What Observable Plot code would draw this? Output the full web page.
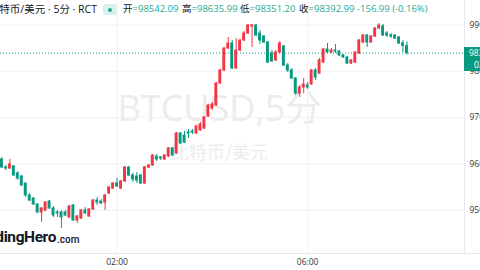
<!DOCTYPE html>
<html>
<head>
<meta charset="utf-8">
<script src="https://cdn.jsdelivr.net/npm/d3@7"></script>
<script src="https://cdn.jsdelivr.net/npm/@observablehq/plot@0.6"></script>
<style>
html,body{margin:0;padding:0;width:480px;height:270px;overflow:hidden;background:#fff}
#wrap{position:relative;width:480px;height:270px;overflow:hidden;font-family:"Open Sans","Noto Sans CJK SC",sans-serif;color:#131722}
.wm{position:absolute;left:0;width:439px;text-align:center;color:#ececec;white-space:nowrap;z-index:0}
#wm1{top:90px;font-size:36px;line-height:36px}
#wm2{top:142px;font-size:18px;line-height:18px;font-family:"Noto Sans CJK SC",sans-serif}
#chart{position:absolute;left:0;top:0;z-index:1}
#chart svg{background:transparent;overflow:hidden}
.hd{position:absolute;top:3px;font-size:9.5px;line-height:12px;white-space:nowrap;z-index:3}
#title{font-size:10.5px;top:2.5px}
.g{color:#22ab94}
#badge{position:absolute;left:103px;top:4px;width:14px;height:11px;border-radius:3px;background:#d9f0eb;z-index:3}
#badge i{position:absolute;left:5px;top:3.5px;width:4px;height:4px;border-radius:50%;background:#22ab94}
#vsep{position:absolute;left:464px;top:0;width:1px;height:253px;background:#e6e8ee;z-index:2}
#hsep{position:absolute;left:0;top:253px;width:480px;height:1px;background:#e6e8ee;z-index:2}
#logo{position:absolute;right:424px;top:230px;font-family:Roboto,sans-serif;font-weight:700;font-size:15.5px;line-height:15px;letter-spacing:-0.4px;white-space:nowrap;z-index:2;color:#131722}
#logo2{position:absolute;left:57px;top:235px;font-family:Roboto,sans-serif;font-weight:500;font-size:10px;line-height:10px;white-space:nowrap;z-index:2;color:#131722}
#pbox{position:absolute;left:464px;width:16px;height:24px;background:#089981;color:#fff;font-size:8.5px;line-height:12px;z-index:4;overflow:hidden}
#pv{padding-left:5px;white-space:nowrap}
#pc{padding-left:10px;white-space:nowrap}
</style>
</head>
<body>
<div id="wrap">
  <div class="wm" id="wm1"></div>
  <div class="wm" id="wm2"></div>
  <div id="chart"></div>
  <div id="vsep"></div>
  <div id="hsep"></div>
  <div id="logo"></div>
  <div id="logo2"></div>
  <div class="hd" id="title" style="right:383px"></div>
  <div id="badge"><i></i></div>
  <div class="hd" style="left:123px"><span id="lo"></span><span class="g" id="vo"></span></div>
  <div class="hd" style="left:182px"><span id="lh"></span><span class="g" id="vh"></span></div>
  <div class="hd" style="left:240px"><span id="ll"></span><span class="g" id="vl"></span></div>
  <div class="hd" style="left:299px"><span id="lc"></span><span class="g" id="vc"></span></div>
  <div class="hd g" style="left:357px" id="chg"></div>
  <div id="pbox"><div id="pv"></div><div id="pc"></div></div>
</div>
<script>
// ---- data (5-minute candles, first at 23:35) ----
const firstCandle = "2025-01-27T23:35";
const opens = [
  96094, 95922, 95900, 95943, 95793, 95728, 95576, 95317, 95252, 95123,
  94950, 94993, 95187, 95036, 94950, 94950, 94950, 94842, 95101, 94777,
  94820, 94993, 94864, 95015, 95209, 95187, 95166, 95360, 95468,
  95576, 95468, 95620, 95922, 95749, 95728, 95749, 95576, 95922, 95965,
  96159, 96138, 96094, 96159, 96332, 96224, 96656, 96613, 96678, 96699,
  96656, 96721, 96764, 97023, 97196, 97261, 97736, 98017, 98492, 98600,
  98060, 98449, 98665, 98816, 98968, 98989, 98816, 98751, 98622, 98384,
  98233, 98406, 98535, 98125, 98017, 97844, 97520, 97650, 97693, 97715,
  98017, 97952, 98190, 98471, 98406, 98449, 98427, 98341, 98298, 98168,
  98190, 98384, 98622, 98773, 98622, 98751, 98924, 98968, 98816, 98773,
  98773, 98730, 98600, 98542.09
];
const highs = [
  96138, 95965, 96094, 95965, 95836, 95749, 95576, 95360, 95274, 95144,
  95058, 95187, 95209, 95079, 94993, 94993, 94993, 95101, 95123, 94885,
  95015, 95058, 95036, 95231, 95274, 95231, 95339, 95511, 95598,
  95684, 95641, 95943, 95943, 95793, 95814, 95771, 95943, 95986, 96202,
  96202, 96159, 96202, 96354, 96354, 96678, 96678, 96699, 96743, 96743,
  96829, 96894, 97023, 97283, 97326, 97758, 98039, 98514, 98730, 98665,
  98708, 98687, 98859, 99011, 99011, 99011, 98881, 98773, 98643, 98449,
  98449, 98643, 98557, 98168, 98060, 97866, 97693, 97844, 97758, 98039,
  98060, 98276, 98492, 98600, 98492, 98579, 98449, 98363, 98319, 98254,
  98427, 98687, 98794, 98794, 98773, 98946, 99032, 99011, 98859, 98816,
  98794, 98751, 98665, 98635.99
];
const lows = [
  95900, 95857, 95879, 95728, 95641, 95511, 95274, 95187, 95101, 94928,
  94734, 94971, 95015, 94842, 94842, 94604, 94864, 94820, 94755, 94712,
  94799, 94907, 94842, 94993, 95101, 95123, 94993, 95339, 95447,
  95490, 95447, 95598, 95728, 95598, 95576, 95555, 95555, 95900, 95943,
  96051, 96073, 96073, 96138, 96159, 96202, 96419, 96440, 96548, 96635,
  96635, 96699, 96743, 97002, 97153, 97239, 97715, 97995, 98471, 98039,
  98039, 98427, 98643, 98794, 98514, 98751, 98579, 98600, 98168, 98190,
  98211, 98384, 98103, 97974, 97823, 97477, 97434, 97520, 97607, 97693,
  97801, 97931, 98168, 98384, 98384, 98384, 98319, 98276, 98147, 98147,
  98168, 98363, 98600, 98514, 98600, 98730, 98903, 98751, 98730, 98708,
  98687, 98579, 98406, 98351.20
];
const closes = [
  95922, 95900, 95986, 95749, 95684, 95533, 95317, 95209, 95123, 94950,
  95036, 95166, 95036, 94885, 94928, 94842, 94885, 95079, 94777, 94864,
  94993, 94928, 95015, 95209, 95166, 95144, 95317, 95490, 95576,
  95511, 95620, 95922, 95749, 95663, 95641, 95576, 95922, 95965, 96181,
  96094, 96116, 96181, 96332, 96181, 96656, 96440, 96462, 96656, 96678,
  96808, 96851, 97002, 97261, 97283, 97736, 98017, 98492, 98600, 98060,
  98449, 98665, 98816, 98989, 98989, 98773, 98665, 98622, 98190, 98211,
  98406, 98600, 98125, 98017, 97844, 97520, 97650, 97715, 97650, 98017,
  97866, 98233, 98471, 98406, 98449, 98427, 98341, 98298, 98168, 98233,
  98406, 98665, 98773, 98622, 98751, 98924, 98989, 98773, 98773, 98751,
  98708, 98600, 98549.98, 98392.99
];
const tickPrices = [95000, 96000, 97000, 98000, 99000];
const tickTimes = ["2025-01-28T02:00", "2025-01-28T06:00"];
const xDomain = ["2025-01-27T23:33:15", "2025-01-28T09:17:30"];
const yDomain = [94064, 99529];
const titleText = "比特币/美元 · 5分 · RCT";
const ohlcLabels = ["开", "高", "低", "收"];
const watermark1 = "BTCUSD,5分";
const watermark2 = "比特币/美元";
const logoMain = "TradingHero";
const logoTail = ".com";
const countdown = "02:17";

// ---- build ----
const UP = "#f23645", DOWN = "#089981";
const parseM = d3.timeParse("%Y-%m-%dT%H:%M");
const parseS = d3.timeParse("%Y-%m-%dT%H:%M:%S");
const t0 = parseM(firstCandle);
const candles = opens.map((o, k) => {
  const t = d3.timeMinute.offset(t0, 5 * k);
  return {t, t1: d3.timeSecond.offset(t, -110), t2: d3.timeSecond.offset(t, 110),
          open: o, close: closes[k], high: highs[k], low: lows[k]};
});
const tickDates = tickTimes.map(parseM);
const isUp = d => d.close >= d.open;
const last = candles[candles.length - 1];
const prev = candles[candles.length - 2];

const chart = Plot.plot({
  width: 480, height: 270,
  marginLeft: 0, marginRight: 16, marginTop: 0, marginBottom: 17,
  style: {background: "transparent", fontSize: "8.5px", fontFamily: "'Open Sans', sans-serif", color: "#333"},
  x: {type: "time", domain: xDomain.map(parseS), ticks: tickDates, tickFormat: d3.timeFormat("%H:%M"), tickSize: 0, tickPadding: 5, label: null},
  y: {domain: yDomain, axis: "right", ticks: tickPrices, tickFormat: d => String(d), tickSize: 0, tickPadding: 5, label: null},
  marks: [
    Plot.ruleY(tickPrices, {stroke: "#f0f2f6", strokeWidth: 1}),
    Plot.ruleX(tickDates, {stroke: "#f0f2f6", strokeWidth: 1}),
    Plot.ruleY([last.close], {stroke: DOWN, strokeDasharray: "1,2", strokeWidth: 1}),
    Plot.ruleX(candles, {filter: isUp, x: "t", y1: "low", y2: "high", stroke: UP, strokeWidth: 1}),
    Plot.ruleX(candles, {filter: d => !isUp(d), x: "t", y1: "low", y2: "high", stroke: DOWN, strokeWidth: 1}),
    Plot.rect(candles, {filter: isUp, x1: "t1", x2: "t2", y1: "open", y2: "close", fill: UP, insetTop: -0.5, insetBottom: -0.5}),
    Plot.rect(candles, {filter: d => !isUp(d), x1: "t1", x2: "t2", y1: "open", y2: "close", fill: DOWN, insetTop: -0.5, insetBottom: -0.5})
  ]
});
document.getElementById("chart").append(chart);

// ---- texts ----
const fmt = d3.formatLocale({decimal: ".", thousands: ",", grouping: [3], currency: ["$", ""], minus: "-"}).format(".2f");
document.getElementById("wm1").textContent = watermark1;
document.getElementById("wm2").textContent = watermark2;
document.getElementById("logo").textContent = logoMain;
document.getElementById("logo2").textContent = logoTail;
document.getElementById("title").textContent = titleText;
document.getElementById("lo").textContent = ohlcLabels[0];
document.getElementById("lh").textContent = ohlcLabels[1];
document.getElementById("ll").textContent = ohlcLabels[2];
document.getElementById("lc").textContent = ohlcLabels[3];
document.getElementById("vo").textContent = "=" + fmt(last.open);
document.getElementById("vh").textContent = "=" + fmt(last.high);
document.getElementById("vl").textContent = "=" + fmt(last.low);
document.getElementById("vc").textContent = "=" + fmt(last.close);
const diff = last.close - prev.close;
document.getElementById("chg").textContent = fmt(diff) + " (" + fmt(diff / prev.close * 100) + "%)";

const yPix = chart.scale("y").apply(last.close);
const pbox = document.getElementById("pbox");
pbox.style.top = (yPix - 6) + "px";
document.getElementById("pv").textContent = fmt(last.close);
document.getElementById("pc").textContent = countdown;
</script>
</body>
</html>
